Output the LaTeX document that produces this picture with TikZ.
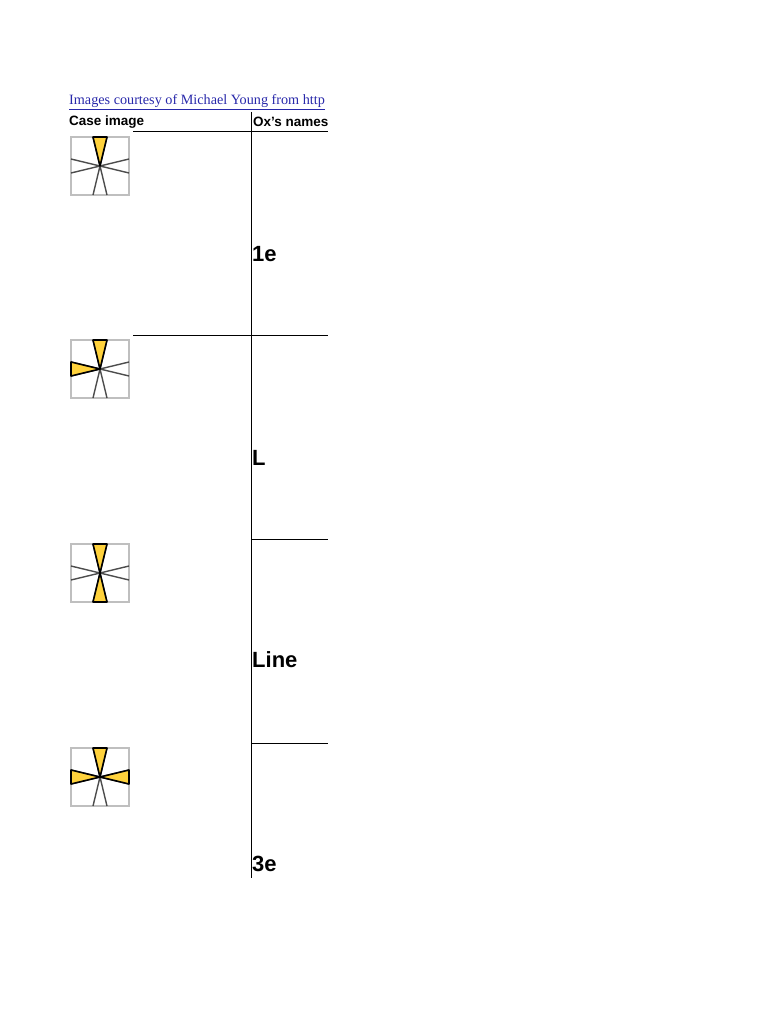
\documentclass[tikz,border=0pt]{standalone}
\usepackage{fontspec}
\setmainfont{Liberation Sans}
\newfontfamily\linkfont{Liberation Serif}
\begin{document}
\begin{tikzpicture}[x=1pt,y=-1pt,
  rule/.style={line width=0.9pt,black},
  hdr/.style={anchor=west,font=\fontsize{13.5pt}{15pt}\selectfont\bfseries,inner sep=0pt},
  lab/.style={anchor=west,font=\fontsize{22pt}{24pt}\selectfont\bfseries,inner sep=0pt},
  ray/.style={line width=1.4pt,black!70},
  petal/.style={fill={rgb,255:red,255;green,210;blue,60},draw=black,line width=1.6pt,line join=round}]
\useasboundingbox (0,0) rectangle (768,1024);
\node[anchor=west,inner sep=0pt,text={rgb,255:red,40;green,40;blue,170},font=\linkfont\fontsize{14.2pt}{16pt}\selectfont] (link) at (69,102) {\underline{Images courtesy of Michael Young from http}};
\node[hdr] (h1) at (69,122) {Case image};
\node[hdr] (h2) at (253,122) {Ox's names};
\draw[rule] (133,131) -- (328,131);
\draw[rule] (251,112) -- (251,878);
\draw[rule] (133,335) -- (328,335);
\draw[rule] (251,539) -- (328,539);
\draw[rule] (251,743) -- (328,743);
\node[lab] (l1) at (252,254) {1e};
\node[lab] (l2) at (252,458) {L};
\node[lab] (l3) at (252,660) {Line};
\node[lab] (l4) at (252,864) {3e};
\newcommand{\icon}[5]{%
 \begin{scope}[shift={(100,#1)}]
  \draw[black!25,line width=1.4pt] (-29,-29) rectangle (29,29);
  \foreach \a/\b in {-7/-29,7/-29,-7/29,7/29} \draw[ray] (0,0) -- (\a,\b);
  \foreach \a/\b in {-29/-7,-29/7,29/-7,29/7} \draw[ray] (0,0) -- (\a,\b);
  \ifnum#2=1 \draw[petal] (0,0) -- (-7,-29) -- (7,-29) -- cycle;\fi
  \ifnum#3=1 \draw[petal] (0,0) -- (-29,-7) -- (-29,7) -- cycle;\fi
  \ifnum#4=1 \draw[petal] (0,0) -- (-7,29) -- (7,29) -- cycle;\fi
  \ifnum#5=1 \draw[petal] (0,0) -- (29,-7) -- (29,7) -- cycle;\fi
 \end{scope}}
\icon{166}{1}{0}{0}{0}
\icon{369}{1}{1}{0}{0}
\icon{573}{1}{0}{1}{0}
\icon{777}{1}{1}{0}{1}
\end{tikzpicture}
\end{document}
